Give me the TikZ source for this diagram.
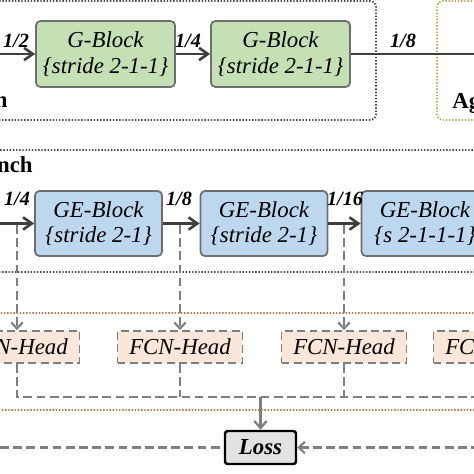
\documentclass[tikz,border=0pt]{standalone}
\usepackage{fontspec}
\setmainfont{Liberation Serif}
\usetikzlibrary{arrows.meta}

\definecolor{gblockfill}{HTML}{C5E0B4}
\definecolor{geblockfill}{HTML}{BDD7EE}
\definecolor{headfill}{HTML}{FBE7D9}
\definecolor{lossfill}{HTML}{E2E2E2}
\definecolor{boxline}{HTML}{6E6E6E}
\definecolor{flowline}{HTML}{3F3F3F}
\definecolor{tapline}{HTML}{7F7F7F}
\definecolor{frameline}{HTML}{4A4A4A}
\definecolor{aggline}{HTML}{BCAE5A}
\definecolor{headframe}{HTML}{C0764A}

\begin{document}
\begin{tikzpicture}[x=0.02cm, y=-0.02cm,
    gblock/.style={rectangle, rounded corners=2.5pt, draw=boxline, line width=1pt, fill=gblockfill, minimum width=2.78cm, minimum height=1.32cm, align=center, font=\fontsize{13}{14.5}\selectfont\itshape},
    geblock/.style={gblock, fill=geblockfill, minimum width=2.54cm, minimum height=1.3cm},
    head/.style={rectangle, draw=tapline, dash pattern=on 4.5pt off 2.5pt, line width=1pt, fill=headfill, minimum width=2.5cm, minimum height=0.64cm, font=\fontsize{13}{14.5}\selectfont\itshape},
    loss/.style={rectangle, rounded corners=1.5pt, draw=black, line width=1.4pt, fill=lossfill, minimum width=1.42cm, minimum height=0.66cm, font=\fontsize{13}{14.5}\selectfont\bfseries\itshape},
    ratio/.style={font=\fontsize{11.5}{13}\selectfont\bfseries\itshape, inner sep=0pt},
    branch/.style={font=\fontsize{13}{15}\selectfont\bfseries, inner sep=0pt},
    frame/.style={line width=1pt, dash pattern=on 0.8pt off 1pt, rounded corners=3pt},
    flow/.style={draw=flowline, line width=1.5pt, -{Straight Barb[length=5pt, width=7pt]}},
    tap/.style={draw=tapline, line width=1.2pt, dash pattern=on 5pt off 2.5pt},
    taparrow/.style={tap, -{Straight Barb[length=3.5pt, width=6.5pt]}}
]
    \useasboundingbox (0,0) rectangle (474,474);
    \clip (0,0) rectangle (474,474);

    % Rahmen
    \draw[frame, draw=frameline] (-10,1) rectangle (376,120);
    \draw[frame, draw=aggline] (437,1) rectangle (500,120);
    \draw[frame, draw=frameline] (-10,150) rectangle (500,272);
    \draw[frame, draw=headframe] (-10,313) rectangle (500,410);

    \node[branch, anchor=base east] (gname) at (8,107) {n};
    \node[branch, anchor=base west] (aggname) at (452,108) {Ag};
    \node[branch, anchor=base east] (gename) at (33,172) {nch};

    % G-Bloecke
    \node[gblock] (gb1) at (105.5,54) {G-Block\\\{stride 2-1-1\}};
    \node[gblock] (gb2) at (280.5,54) {G-Block\\\{stride 2-1-1\}};
    \coordinate (gin) at (0,54);
    \coordinate (gout) at (480,54);
    \draw[flow] (gin) -- (gb1);
    \draw[flow] (gb1) -- (gb2);
    \draw[draw=flowline, line width=1.5pt] (gb2) -- (gout);
    \node[ratio] (g12) at (16,41) {1/2};
    \node[ratio] (g14) at (188,41) {1/4};
    \node[ratio] (g18) at (403,41) {1/8};

    % GE-Bloecke
    \node[geblock] (geb1) at (98.5,223.5) {GE-Block\\\{stride 2-1\}};
    \node[geblock] (geb2) at (264,223.5) {GE-Block\\\{stride 2-1\}};
    \node[geblock] (geb3) at (425,223.5) {GE-Block\\\{s 2-1-1-1\}};
    \coordinate (gein) at (0,223.5);
    \draw[flow] (gein) -- (geb1);
    \draw[flow] (geb1) -- (geb2);
    \draw[flow] (geb2) -- (geb3);
    \node[ratio] (ge14) at (17,199) {1/4};
    \node[ratio] (ge18) at (179,199) {1/8};
    \node[ratio] (ge116) at (345,199) {1/16};

    % FCN-Heads
    \node[head] (head1) at (17,347) {FCN-Head};
    \node[head] (head2) at (180,347) {FCN-Head};
    \node[head] (head3) at (344,347) {FCN-Head};
    \node[head] (head4) at (496,347) {FCN-Head};
    \coordinate (tap1) at (17,225);
    \coordinate (tap2) at (180,225);
    \coordinate (tap3) at (344,225);
    \draw[taparrow] (tap1) -- (head1);
    \draw[taparrow] (tap2) -- (head2);
    \draw[taparrow] (tap3) -- (head3);

    % Loss
    \node[loss] (loss) at (260.5,447.5) {Loss};
    \coordinate (bus1) at (17,397);
    \coordinate (busend) at (480,397);
    \draw[tap] (head1) -- (bus1) -- (busend);
    \draw[tap] (head2) -- (head2 |- bus1);
    \draw[tap] (head3) -- (head3 |- bus1);
    \draw[tap] (head4) -- (head4 |- bus1);
    \draw[draw=tapline, line width=1.3pt, -{Straight Barb[length=4pt, width=7pt]}] (loss |- bus1) -- (loss);
    \coordinate (lossleft) at (0,447.5);
    \coordinate (lossright) at (480,447.5);
    \draw[tap] (lossleft) -- (loss);
    \draw[taparrow] (lossright) -- (loss);
\end{tikzpicture}
\end{document}
